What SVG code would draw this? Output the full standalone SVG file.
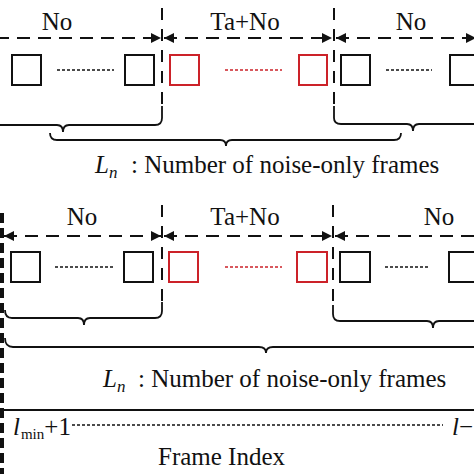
<svg xmlns="http://www.w3.org/2000/svg" width="474" height="474" viewBox="0 0 474 474">
<defs>
<style>
.lbl{font-family:"Liberation Serif","Times New Roman",serif;font-size:25px;fill:#111}
.it{font-style:italic}
.arr{stroke:#111;stroke-width:2;stroke-dasharray:13 8;fill:none}
.vd{stroke:#111;stroke-width:2;stroke-dasharray:12 9;fill:none}
.sq{fill:none;stroke:#111;stroke-width:2}
.sqr{fill:none;stroke:#cc2229;stroke-width:2}
.dot{stroke:#111;stroke-width:1.5;stroke-dasharray:3 2;fill:none}
.dotr{stroke:#cc2229;stroke-width:1.5;stroke-dasharray:3 2;fill:none}
.br{fill:none;stroke:#111;stroke-width:1.8}
</style>
<marker id="ah" viewBox="0 0 10 10" refX="10" refY="5" markerWidth="5" markerHeight="5" orient="auto-start-reverse">
<path d="M0,0 L10,5 L0,10 Z" fill="#111"/>
</marker>
</defs>

<g id="connectors">
<!-- top arrows -->
<line class="arr" x1="-4" y1="38" x2="161" y2="38" marker-end="url(#ah)"/>
<line class="arr" x1="164" y1="38" x2="332" y2="38" marker-start="url(#ah)" marker-end="url(#ah)"/>
<line class="arr" x1="336" y1="38" x2="476" y2="38" marker-start="url(#ah)" marker-end="url(#ah)"/>
<line class="vd" x1="162" y1="8" x2="162" y2="106"/>
<line class="vd" x1="334" y1="8" x2="334" y2="106"/>
<!-- bottom arrows -->
<line class="arr" x1="4" y1="236" x2="161" y2="236" marker-start="url(#ah)" marker-end="url(#ah)"/>
<line class="arr" x1="164" y1="236" x2="332" y2="236" marker-start="url(#ah)" marker-end="url(#ah)"/>
<line class="arr" x1="335" y1="236" x2="480" y2="236" marker-start="url(#ah)"/>
<line class="vd" x1="162" y1="205" x2="162" y2="302"/>
<line class="vd" x1="333" y1="205" x2="333" y2="305"/>
<line x1="2" y1="213" x2="2" y2="474" stroke="#111" stroke-width="4" stroke-dasharray="10 5"/>
<line x1="0" y1="410" x2="474" y2="410" stroke="#111" stroke-width="2"/>
<line class="dot" x1="72" y1="425" x2="443" y2="425"/>
</g>

<g id="top-row">
<rect class="sq" x="12" y="55" width="29" height="30"/>
<line class="dot" x1="57" y1="70" x2="114" y2="70"/>
<rect class="sq" x="125" y="55" width="29" height="30"/>
<rect class="sqr" x="170" y="55" width="29" height="30"/>
<line class="dotr" x1="225" y1="70" x2="282" y2="70"/>
<rect class="sqr" x="299" y="55" width="28" height="30"/>
<rect class="sq" x="341" y="55" width="29" height="30"/>
<line class="dot" x1="386" y1="70" x2="432" y2="70"/>
<rect class="sq" x="450" y="55" width="29" height="30"/>
</g>

<g id="bottom-row">
<rect class="sq" x="11" y="252" width="29" height="30"/>
<line class="dot" x1="55" y1="267" x2="114" y2="267"/>
<rect class="sq" x="124" y="252" width="29" height="30"/>
<rect class="sqr" x="169" y="252" width="29" height="30"/>
<line class="dotr" x1="225" y1="267" x2="282" y2="267"/>
<rect class="sqr" x="297" y="252" width="30" height="30"/>
<rect class="sq" x="340" y="252" width="30" height="30"/>
<line class="dot" x1="385" y1="267" x2="430" y2="267"/>
<rect class="sq" x="449" y="252" width="30" height="30"/>
</g>

<g id="braces">
<path class="br" d="M162,106 L162,118 Q162,125 155,125 L69,125 Q63,125 63,132 Q63,125 57,125 L-10,125"/>
<path class="br" d="M50,133 Q50,140 57,140 L220,140 Q226,140 226,146 Q226,140 232,140 L394,140 Q401,140 401,133"/>
<path class="br" d="M334,106 L334,118 Q334,124 341,124 L407,124 Q413,124 413,131 Q413,124 419,124 L480,124"/>
<path class="br" d="M5,310 Q5,318 12,318 L78,318 Q84,318 84,325 Q84,318 90,318 L155,318 Q162,318 162,311 L162,302"/>
<path class="br" d="M5,338 Q5,347 13,347 L259,347 Q266,347 266,353 Q266,347 273,347 L480,347"/>
<path class="br" d="M333,305 L333,314 Q333,321 340,321 L427,321 Q433,321 433,328 Q433,321 439,321 L480,321"/>
</g>

<g id="labels">
<text class="lbl" x="57" y="30" text-anchor="middle">No</text>
<text class="lbl" x="245" y="30" text-anchor="middle">Ta+No</text>
<text class="lbl" x="411" y="30" text-anchor="middle">No</text>
<text class="lbl" x="82" y="225" text-anchor="middle">No</text>
<text class="lbl" x="245" y="225" text-anchor="middle">Ta+No</text>
<text class="lbl" x="439" y="225" text-anchor="middle">No</text>
<text class="lbl" x="95" y="173"><tspan class="it">L</tspan><tspan class="it" font-size="17" dy="5">n</tspan></text>
<text class="lbl" x="131" y="173">: Number of noise-only frames</text>
<text class="lbl" x="103" y="387"><tspan class="it">L</tspan><tspan class="it" font-size="17" dy="5">n</tspan></text>
<text class="lbl" x="138" y="387">: Number of noise-only frames</text>
<text class="lbl" x="13" y="435" font-size="22"><tspan class="it">l</tspan><tspan font-size="15" dx="1" dy="4">min</tspan><tspan dy="-4">+1</tspan></text>
<text class="lbl" x="452" y="435" font-size="22"><tspan class="it">l</tspan>−</text>
<text class="lbl" x="158" y="465">Frame Index</text>
</g>
</svg>
